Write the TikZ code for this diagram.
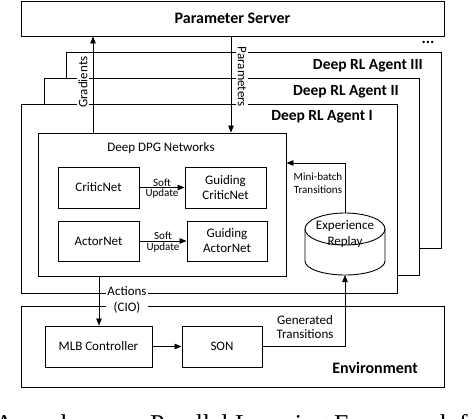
\documentclass[tikz,border=0pt]{standalone}
\usepackage{fontspec}
\setmainfont{Carlito}
\newfontfamily\capfont{Liberation Serif}
\usetikzlibrary{arrows.meta}
\begin{document}
\begin{tikzpicture}[x=1pt,y=1pt,
  box/.style={draw, line width=0.9pt, fill=white, inner sep=0pt},
  conn/.style={line width=0.8pt},
  arr/.style={conn, -{Triangle[length=7pt,width=5.5pt]}},
  big/.style={font=\fontsize{16}{18}\selectfont\bfseries, inner sep=0pt},
  agentlbl/.style={font=\fontsize{15.5}{18}\selectfont\bfseries, inner sep=0pt, anchor=east},
  txt/.style={font=\fontsize{13}{15}\selectfont, align=center},
  small/.style={font=\fontsize{11}{13}\selectfont, align=center},
  lbl/.style={fill=white, inner sep=1.5pt}
]
\useasboundingbox (0,0) rectangle (474,-418);
% agents (layered)
\node[box, minimum width=375, minimum height=196] (ag3) at (253.5,-150) {};
\node[box, minimum width=375, minimum height=197] (ag2) at (231.5,-176.5) {};
\node[box, minimum width=376, minimum height=189] (ag1) at (209,-198.5) {};
\node[agentlbl] (l3) at (423,-66) {Deep RL Agent III};
\node[agentlbl] (l2) at (399,-92) {Deep RL Agent II};
\node[agentlbl] (l1) at (373,-117) {Deep RL Agent I};
\node[big] (dots) at (428,-42) {...};
% parameter server
\node[box, minimum width=423, minimum height=35] (ps) at (232.5,-18.5) {};
\node[big] (pst) at (ps) {Parameter Server};
% environment
\node[box, minimum width=423, minimum height=81] (env) at (232.5,-346.5) {};
\node[big, anchor=east] (envt) at (418,-368) {Environment};
% deep DPG
\node[box, minimum width=248, minimum height=143] (dpg) at (162,-204.5) {};
\node[txt] (dpgt) at (161,-148) {Deep DPG Networks};
\node[box, txt, minimum width=81, minimum height=41] (critic) at (98.5,-187.5) {CriticNet};
\node[box, txt, minimum width=81, minimum height=41] (gcritic) at (225.5,-187.5) {Guiding\\CriticNet};
\node[box, txt, minimum width=81, minimum height=40] (actor) at (98.5,-241) {ActorNet};
\node[box, txt, minimum width=80, minimum height=40] (gactor) at (227,-241) {Guiding\\ActorNet};
\draw[arr] (critic) -- (gcritic)
  node[midway, above, small, inner sep=1pt] (s1) {Soft}
  node[midway, below, small, inner sep=1pt] (u1) {Update};
\draw[arr] (actor) -- (gactor)
  node[midway, above, small, inner sep=1pt] (s2) {Soft}
  node[midway, below, small, inner sep=1pt] (u2) {Update};
% experience replay cylinder
\draw[line width=0.9pt, fill=white] (305,-229) -- (305,-261)
  arc[start angle=180, end angle=360, x radius=40, y radius=14] -- (385,-229);
\draw[line width=0.9pt] (345,-229) ellipse [x radius=40, y radius=16];
\node[txt, font=\fontsize{13}{16}\selectfont] (rep) at (345,-234) {Experience\\Replay};
\coordinate (repTop) at (345,-213);
\coordinate (repBot) at (345,-275);
\coordinate (mbc) at (345,-163);
\draw[arr] (repTop) -- (mbc) -- (dpg.east |- mbc);
\node[small] (mbt) at (318,-183.5) {Mini-batch\\Transitions};
% environment contents
\node[box, txt, minimum width=107, minimum height=41] (mlb) at (98.5,-346.5) {MLB Controller};
\node[box, txt, minimum width=80, minimum height=41] (son) at (222,-346.5) {SON};
\draw[arr] (mlb) -- (son);
\draw[arr] (son.east) -| (repBot);
\node[txt, font=\fontsize{13}{14}\selectfont] (gen) at (305,-327) {Generated\\Transitions};
% gradients / parameters
\draw[arr] (dpg.north -| 93,0) -- (ps.south -| 93,0);
\draw[arr] (ps.south -| 231,0) -- (dpg.north -| 231,0);
\node[txt, lbl, rotate=90] (grad) at (83,-82) {Gradients};
\node[txt, lbl, rotate=-90] (par) at (242,-77) {Parameters};
% actions
\draw[arr] (dpg.south -| 99,0) -- (mlb.north -| 99,0);
\node[txt, lbl, font=\fontsize{13}{16}\selectfont, inner sep=1pt] (act) at (127,-300) {Actions\\(CIO)};
% caption (cropped)
\node[anchor=base west, inner sep=0pt, font=\capfont\fontsize{25.7}{30}\selectfont] (cap) at (-5,-432) {Asynchronous Parallel Learning Framework for};
\end{tikzpicture}
\end{document}
